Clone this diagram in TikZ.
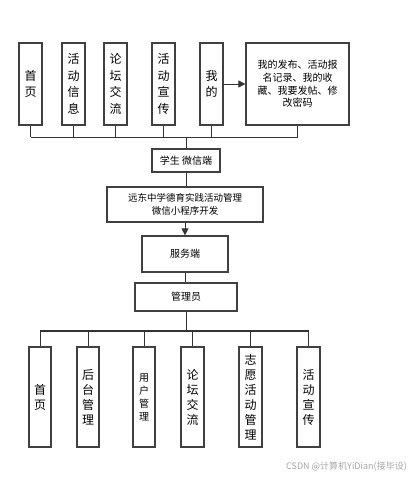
\documentclass[tikz,border=0pt]{standalone}
\usepackage{fontspec}
\setmainfont{Noto Sans CJK SC}
\usetikzlibrary{arrows.meta}
\tikzset{
  box/.style={draw=black!75, line width=1.2pt, fill=white, inner sep=0pt, align=center},
  vbox/.style={box, minimum width=23pt, minimum height=82pt, font=\fontsize{12}{16.7}\selectfont},
  bvbox/.style={box, minimum width=22pt, minimum height=100pt, font=\fontsize{12}{15}\selectfont},
  conn/.style={draw=black!80, line width=1pt},
  arr/.style={conn, -{Triangle[length=7pt,width=7pt]}}
}
\begin{document}
\begin{tikzpicture}[x=1pt,y=-1pt]
\useasboundingbox (0,0) rectangle (410,479);
% top row
\node[vbox] (a1) at (30.5,84) {首\\页};
\node[vbox] (a2) at (73.5,84) {活\\动\\信\\息};
\node[vbox] (a3) at (115.5,84) {论\\坛\\交\\流};
\node[vbox] (a4) at (163.5,84) {活\\动\\宣\\传};
\node[vbox] (a5) at (211.5,84) {我\\的};
\node[box, minimum width=103pt, minimum height=82pt, font=\fontsize{10}{12.7}\selectfont] (a6) at (297.5,84)
  {我的发布、活动报\\名记录、我的收\\藏、我要发帖、修\\改密码};
\draw[arr] (a5.east) -- (a6.west);
\coordinate (busT) at (186,137);
\foreach \n in {a1,a2,a3,a4,a5,a6}{
  \draw[conn] (\n.south) -- (\n.south |- busT);
}
\draw[conn] (a1.south |- busT) -- (a6.south |- busT);
% middle column
\node[box, minimum width=68pt, minimum height=23pt, font=\fontsize{10}{12}\selectfont] (s) at (186,160.5) {学生 微信端};
\node[box, minimum width=156pt, minimum height=35pt, font=\fontsize{9.5}{13}\selectfont] (p) at (185,204.5) {远东中学德育实践活动管理\\微信小程序开发};
\node[box, minimum width=86pt, minimum height=36pt, font=\fontsize{10}{12}\selectfont] (f) at (185,254) {服务端};
\node[box, minimum width=102pt, minimum height=28pt, font=\fontsize{10}{12}\selectfont] (m) at (186,297) {管理员};
\draw[conn] (busT) -- (s.north);
\draw[conn] (s.south) -- (s.south |- p.north);
\draw[arr] (p.south) -- (f.north);
\draw[conn] (f.south) -- (f.south |- m.north);
% bottom row
\coordinate (busB) at (186,331);
\node[bvbox] (b1) at (40,397) {首\\页};
\node[bvbox] (b2) at (88,397) {后\\台\\管\\理};
\node[bvbox, font=\fontsize{10}{13}\selectfont] (b3) at (144,397) {用\\户\\管\\理};
\node[bvbox, minimum width=23pt] (b4) at (192.5,397) {论\\坛\\交\\流};
\node[bvbox, minimum width=23pt] (b5) at (250.5,397) {志\\愿\\活\\动\\管\\理};
\node[bvbox, minimum width=23pt] (b6) at (308.5,397) {活\\动\\宣\\传};
\draw[conn] (m.south) -- (busB);
\draw[conn, line width=1.4pt] (b1.north |- busB) -- (b6.north |- busB);
\foreach \n in {b1,b2,b3,b4,b5,b6}{
  \draw[conn] (\n.north |- busB) -- (\n.north);
}
% watermark
\node[anchor=east, text=black!35, font=\fontsize{9}{10}\selectfont, inner sep=0pt] (wm) at (407,467) {CSDN @计算机YiDian(接毕设)};
\end{tikzpicture}
\end{document}
